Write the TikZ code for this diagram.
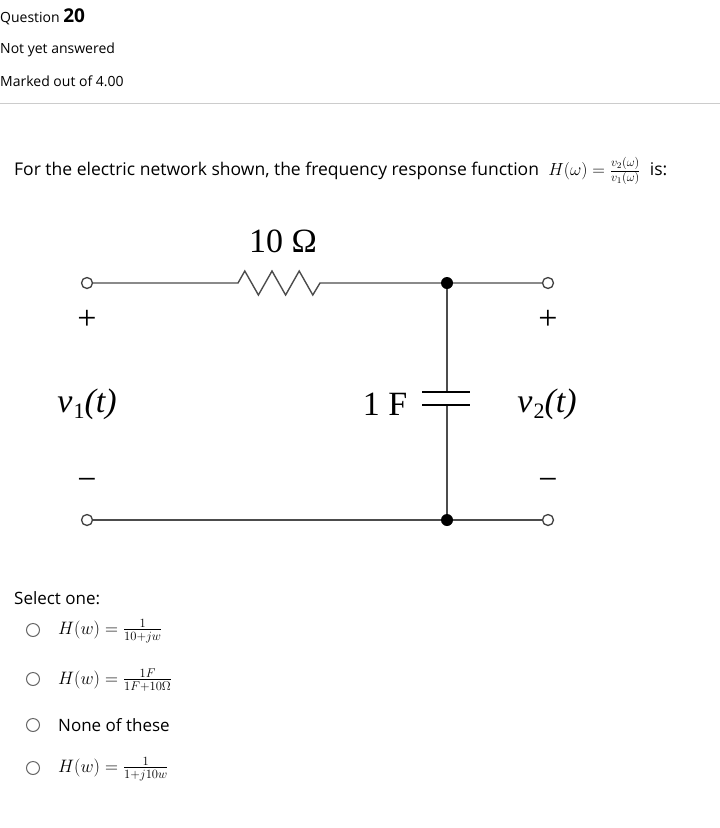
\RequirePackage{fix-cm}
\documentclass[tikz,border=0pt]{standalone}
\usepackage{amsmath}
\usepackage{fontspec}
\setmainfont{Open Sans}
\newfontfamily\ckt{Liberation Serif}
\begin{document}
\begin{tikzpicture}[x=1pt,y=-1pt,
  wire/.style={line width=1.4pt,draw=black!70},
  term/.style={circle,draw=black!75,line width=1.3pt,fill=white,inner sep=0,minimum size=11pt},
  dotn/.style={circle,fill=black,inner sep=0,minimum size=12pt},
  lab/.style={font=\ckt\fontsize{34}{36}\selectfont,inner sep=0},
  ui/.style={anchor=west,inner sep=0},
  radio/.style={circle,draw=black!60,line width=1pt,inner sep=0,minimum size=13pt}]
\useasboundingbox (0,0) rectangle (720,828);
% header
\node[ui] (q) at (0,17) {\fontsize{14}{16}\selectfont Question \fontsize{19}{21}\selectfont\bfseries 20};
\node[ui] (na) at (0,50) {\fontsize{14}{16}\selectfont Not yet answered};
\node[ui] (mk) at (0,81) {\fontsize{14}{16}\selectfont Marked out of 4.00};
\draw[black!20,line width=1pt] (0,103) -- (720,103);
\node[ui] (qt) at (14,171) {\fontsize{17.5}{20}\selectfont For the electric network shown, the frequency response function\; $H(\omega)=\frac{v_2(\omega)}{v_1(\omega)}$\; is:};
% circuit
\node[term] (t1) at (87,283) {};
\node[term] (t2) at (87,520) {};
\node[term] (t3) at (548,283) {};
\node[term] (t4) at (548,520) {};
\node[dotn] (d1) at (447,283) {};
\node[dotn] (d2) at (447,520) {};
\coordinate (r1) at (238,283);
\coordinate (r2) at (320,283);
\coordinate (c1) at (447,392);
\coordinate (c2) at (447,405);
\draw[wire] (t1) -- (r1) -- ++(6.8,-12) -- ++(13.6,24) -- ++(13.6,-24) -- ++(13.6,24) -- ++(13.6,-24) -- ++(13.6,24) -- (r2) -- (d1) -- (t3);
\draw[wire] (t2) -- (d2) -- (t4);
\draw[wire] (d1) -- (c1);
\draw[wire] (c2) -- (d2);
\draw[line width=2.8pt] (422,392) -- (470,392);
\draw[line width=2.8pt] (422,405) -- (470,405);
\node[lab] (rl) at (283,241) {10 Ω};
\node[lab] (cl) at (385,404) {1 F};
\node[lab] (p1) at (87,320) {+};
\node[lab] (p2) at (548,320) {+};
\node[lab] (m1) at (87,484) {−};
\node[lab] (m2) at (548,484) {−};
\node[lab] (v1) at (87,404) {\itshape v\kern1pt\raisebox{-6pt}{\fontsize{22}{24}\selectfont\upshape 1}(t)};
\node[lab] (v2) at (547,404) {\itshape v\kern1pt\raisebox{-6pt}{\fontsize{22}{24}\selectfont\upshape 2}(t)};
% options
\node[ui] (so) at (14,598) {\fontsize{17}{20}\selectfont Select one:};
\node[radio] (o1) at (33,630) {};
\node[radio] (o2) at (33,679) {};
\node[radio] (o3) at (33,725) {};
\node[radio] (o4) at (33,768) {};
\node[ui] (a1) at (58,631) {\fontsize{18}{21}\selectfont $H(w)=\frac{1}{10+jw}$};
\node[ui] (a2) at (58,680) {\fontsize{18}{21}\selectfont $H(w)=\frac{1F}{1F+10\Omega}$};
\node[ui] (a3) at (58,725) {\fontsize{17}{20}\selectfont None of these};
\node[ui] (a4) at (58,769) {\fontsize{18}{21}\selectfont $H(w)=\frac{1}{1+j10w}$};
\end{tikzpicture}
\end{document}
